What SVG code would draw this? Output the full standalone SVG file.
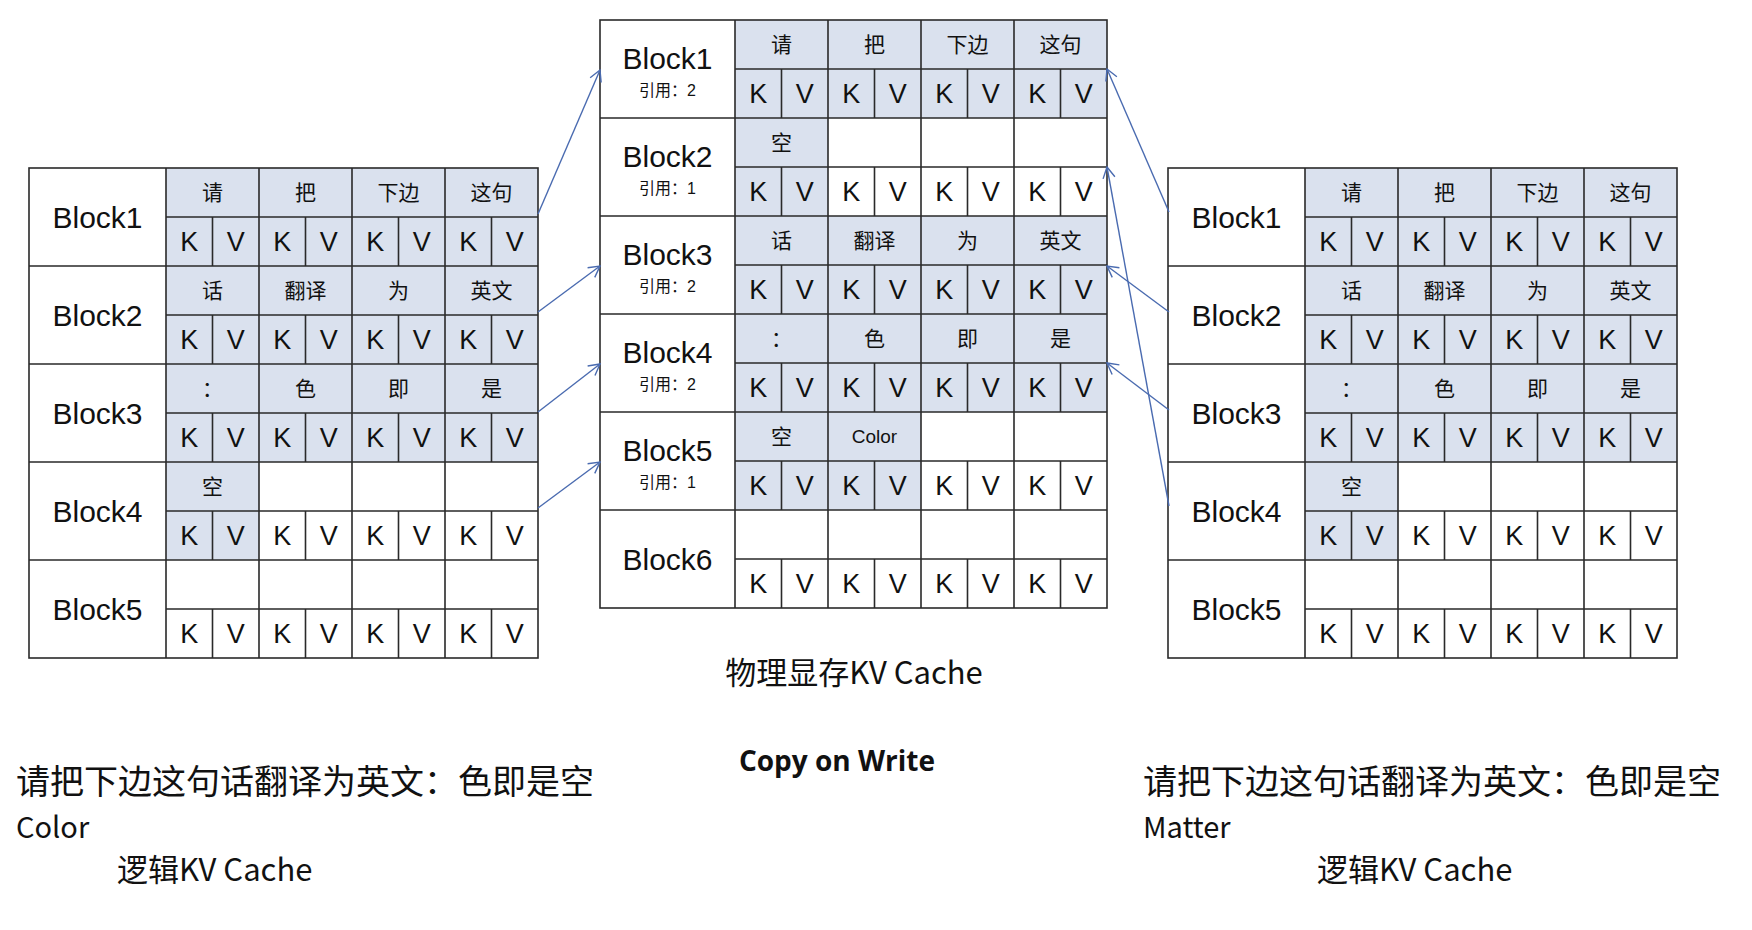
<svg xmlns="http://www.w3.org/2000/svg" xmlns:xlink="http://www.w3.org/1999/xlink" width="1752" height="930" viewBox="0 0 1752 930">
<style>
.f{fill:#dae1ee}
.g{fill:none;stroke:#2a2a2a;stroke-width:1.6}
text{font-family:"Liberation Sans","Noto Sans CJK SC",sans-serif;fill:#111;text-anchor:middle;dominant-baseline:central}
.b{font-size:30px}
.r{font-size:16px}
.t{font-size:21px;font-family:"Noto Sans CJK SC",sans-serif}
.k{font-size:27px}
.c{stroke:#4a6bb0;stroke-width:1.4;fill:none;marker-end:url(#ah)}
.cap{font-size:34px;text-anchor:start;dominant-baseline:auto;font-family:"Noto Sans CJK SC",sans-serif}
</style>
<defs>
<marker id="ah" markerWidth="14" markerHeight="14" refX="12" refY="7" orient="auto" markerUnits="userSpaceOnUse">
<path d="M1 1L12 7L1 13" fill="none" stroke="#4a6bb0" stroke-width="1.4"/>
</marker>
<g id="kvL">
<text x="189.25">K</text><text x="235.75">V</text><text x="282.25">K</text><text x="328.75">V</text><text x="375.25">K</text><text x="421.75">V</text><text x="468.25">K</text><text x="514.75">V</text>
</g>
<g id="kvM">
<text x="758.25">K</text><text x="804.75">V</text><text x="851.25">K</text><text x="897.75">V</text><text x="944.25">K</text><text x="990.75">V</text><text x="1037.25">K</text><text x="1083.75">V</text>
</g>
</defs>
<rect width="1752" height="930" fill="#fff"/>

<g id="left-table">
<rect class="f" x="166" y="168" width="372" height="294"/>
<rect class="f" x="166" y="462" width="93" height="98"/>
<rect class="g" x="29" y="168" width="509" height="490"/>
<path class="g" d="M29 266H538M29 364H538M29 462H538M29 560H538M166 217H538M166 315H538M166 413H538M166 511H538M166 609H538M166 168V658M259 168V658M352 168V658M445 168V658"/>
<path class="g" d="M212.5 217V266M212.5 315V364M212.5 413V462M212.5 511V560M212.5 609V658M305.5 217V266M305.5 315V364M305.5 413V462M305.5 511V560M305.5 609V658M398.5 217V266M398.5 315V364M398.5 413V462M398.5 511V560M398.5 609V658M491.5 217V266M491.5 315V364M491.5 413V462M491.5 511V560M491.5 609V658"/>
<g class="b"><text x="97.5" y="217">Block1</text><text x="97.5" y="315">Block2</text><text x="97.5" y="413">Block3</text><text x="97.5" y="511">Block4</text><text x="97.5" y="609">Block5</text></g>
<g class="t">
<text x="212.5" y="192">请</text><text x="305.5" y="192">把</text><text x="398.5" y="192">下边</text><text x="491.5" y="192">这句</text>
<text x="212.5" y="290">话</text><text x="305.5" y="290">翻译</text><text x="398.5" y="290">为</text><text x="491.5" y="290">英文</text>
<text x="212.5" y="388">：</text><text x="305.5" y="388">色</text><text x="398.5" y="388">即</text><text x="491.5" y="388">是</text>
<text x="212.5" y="486">空</text>
</g>
<g class="k">
<use xlink:href="#kvL" y="242"/><use xlink:href="#kvL" y="340"/><use xlink:href="#kvL" y="438"/><use xlink:href="#kvL" y="536"/><use xlink:href="#kvL" y="634"/>
</g>
</g>

<use id="right-table" xlink:href="#left-table" x="1139" y="0"/>

<g id="middle-table">
<rect class="f" x="735" y="20" width="372" height="98"/>
<rect class="f" x="735" y="118" width="93" height="98"/>
<rect class="f" x="735" y="216" width="372" height="196"/>
<rect class="f" x="735" y="412" width="186" height="98"/>
<rect class="g" x="600" y="20" width="507" height="588"/>
<path class="g" d="M600 118H1107M600 216H1107M600 314H1107M600 412H1107M600 510H1107M735 69H1107M735 167H1107M735 265H1107M735 363H1107M735 461H1107M735 559H1107M735 20V608M828 20V608M921 20V608M1014 20V608"/>
<path class="g" d="M781.5 69V118M781.5 167V216M781.5 265V314M781.5 363V412M781.5 461V510M781.5 559V608M874.5 69V118M874.5 167V216M874.5 265V314M874.5 363V412M874.5 461V510M874.5 559V608M967.5 69V118M967.5 167V216M967.5 265V314M967.5 363V412M967.5 461V510M967.5 559V608M1060.5 69V118M1060.5 167V216M1060.5 265V314M1060.5 363V412M1060.5 461V510M1060.5 559V608"/>
<g class="b"><text x="667.5" y="58">Block1</text><text x="667.5" y="156">Block2</text><text x="667.5" y="254">Block3</text><text x="667.5" y="352">Block4</text><text x="667.5" y="450">Block5</text><text x="667.5" y="559">Block6</text></g>
<g class="r"><text x="667.5" y="90">引用：2</text><text x="667.5" y="188">引用：1</text><text x="667.5" y="286">引用：2</text><text x="667.5" y="384">引用：2</text><text x="667.5" y="482">引用：1</text></g>
<g class="t">
<text x="781.5" y="44">请</text><text x="874.5" y="44">把</text><text x="967.5" y="44">下边</text><text x="1060.5" y="44">这句</text>
<text x="781.5" y="142">空</text>
<text x="781.5" y="240">话</text><text x="874.5" y="240">翻译</text><text x="967.5" y="240">为</text><text x="1060.5" y="240">英文</text>
<text x="781.5" y="338">：</text><text x="874.5" y="338">色</text><text x="967.5" y="338">即</text><text x="1060.5" y="338">是</text>
<text x="781.5" y="436">空</text><text x="874.5" y="436" style="font-family:'Liberation Sans',sans-serif;font-size:19px">Color</text>
</g>
<g class="k">
<use xlink:href="#kvM" y="94"/><use xlink:href="#kvM" y="192"/><use xlink:href="#kvM" y="290"/><use xlink:href="#kvM" y="388"/><use xlink:href="#kvM" y="486"/><use xlink:href="#kvM" y="584"/>
</g>
</g>

<g id="connectors">
<path class="c" d="M538 214L600 70"/>
<path class="c" d="M538 312L600 266"/>
<path class="c" d="M538 412L600 364"/>
<path class="c" d="M538 508L600 462"/>
<path class="c" d="M1169 212L1107 69"/>
<path class="c" d="M1169 312L1107 266"/>
<path class="c" d="M1169 410L1107 363"/>
<path class="c" d="M1169 506L1107 167"/>
</g>

<g id="labels">
<text x="854" y="670" style="font-size:31px;font-family:'Noto Sans CJK SC',sans-serif">物理显存KV Cache</text>
<text x="837" y="760" style="font-size:28px;font-weight:bold;font-family:'Open Sans',sans-serif">Copy on Write</text>
<text class="cap" x="16" y="794">请把下边这句话翻译为英文：色即是空</text>
<text class="cap" x="16" y="838" style="font-size:29px">Color</text>
<text class="cap" x="117" y="881" style="font-size:31px">逻辑KV Cache</text>
<text class="cap" x="1143" y="794">请把下边这句话翻译为英文：色即是空</text>
<text class="cap" x="1143" y="838" style="font-size:29px">Matter</text>
<text class="cap" x="1317" y="881" style="font-size:31px">逻辑KV Cache</text>
</g>
</svg>
